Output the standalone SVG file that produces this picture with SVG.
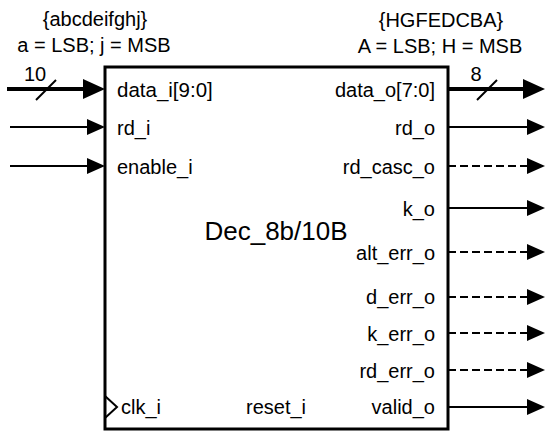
<svg xmlns="http://www.w3.org/2000/svg" width="550" height="440" viewBox="0 0 550 440">
<style>
text{font-family:"Liberation Sans",Arial,sans-serif;font-size:20px;fill:#000}
.r{text-anchor:end}
.m{text-anchor:middle}
.w{stroke:#000;stroke-width:2;fill:none}
.b{stroke:#000;stroke-width:4;fill:none}
.d{stroke-dasharray:8 4}
</style>
<defs>
<marker id="ah" markerUnits="userSpaceOnUse" markerWidth="18" markerHeight="16" refX="0" refY="8" orient="auto" overflow="visible"><path d="M0,0 L18,8 L0,16 z" fill="#000"/></marker>
<marker id="ahb" markerUnits="userSpaceOnUse" markerWidth="22" markerHeight="20" refX="0" refY="10" orient="auto" overflow="visible"><path d="M0,0 L22,10 L0,20 z" fill="#000"/></marker>
</defs>
<rect width="550" height="440" fill="#fff"/>
<g id="block">
<rect x="105" y="67" width="343" height="362" fill="#fff" stroke="#000" stroke-width="3"/>
<polyline points="105,396 117,407 105,418" fill="none" stroke="#000" stroke-width="2"/>
<text x="276" y="240" class="m" style="font-size:26px">Dec_8b/10B</text>
<text x="117" y="97" style="font-size:20.5px">data_i[9:0]</text>
<text x="117" y="135">rd_i</text>
<text x="117" y="174">enable_i</text>
<text x="121" y="414">clk_i</text>
<text x="276" y="414" class="m">reset_i</text>
<text x="435" y="97" class="r">data_o[7:0]</text>
<text x="435" y="135" class="r">rd_o</text>
<text x="435" y="174" class="r">rd_casc_o</text>
<text x="435" y="216" class="r">k_o</text>
<text x="435" y="260" class="r">alt_err_o</text>
<text x="435" y="304" class="r">d_err_o</text>
<text x="435" y="341" class="r">k_err_o</text>
<text x="435" y="378" class="r">rd_err_o</text>
<text x="435" y="414" class="r">valid_o</text>
</g>
<g id="annotations">
<text x="95" y="26" class="m">{abcdeifghj}</text>
<text x="94" y="52" class="m">a = LSB; j = MSB</text>
<text x="441" y="27" class="m">{HGFEDCBA}</text>
<text x="440" y="53" class="m">A = LSB; H = MSB</text>
<text x="35" y="81" class="m">10</text>
<text x="476" y="81" class="m">8</text>
</g>
<g id="connectors">
<line x1="7" y1="89" x2="83" y2="89" class="b" marker-end="url(#ahb)"/>
<line x1="36" y1="100" x2="56" y2="80" class="w"/>
<line x1="10" y1="127" x2="87" y2="127" class="w" marker-end="url(#ah)"/>
<line x1="10" y1="166" x2="87" y2="166" class="w" marker-end="url(#ah)"/>
<line x1="448" y1="89" x2="523" y2="89" class="b" marker-end="url(#ahb)"/>
<line x1="477" y1="100" x2="497" y2="80" class="w"/>
<line x1="448" y1="127" x2="527" y2="127" class="w" marker-end="url(#ah)"/>
<line x1="448" y1="166" x2="527" y2="166" class="w d" marker-end="url(#ah)"/>
<line x1="448" y1="208" x2="527" y2="208" class="w" marker-end="url(#ah)"/>
<line x1="448" y1="252" x2="527" y2="252" class="w d" marker-end="url(#ah)"/>
<line x1="448" y1="297" x2="527" y2="297" class="w d" marker-end="url(#ah)"/>
<line x1="448" y1="333" x2="527" y2="333" class="w d" marker-end="url(#ah)"/>
<line x1="448" y1="370" x2="527" y2="370" class="w d" marker-end="url(#ah)"/>
<line x1="448" y1="407" x2="527" y2="407" class="w" marker-end="url(#ah)"/>
</g>
</svg>
